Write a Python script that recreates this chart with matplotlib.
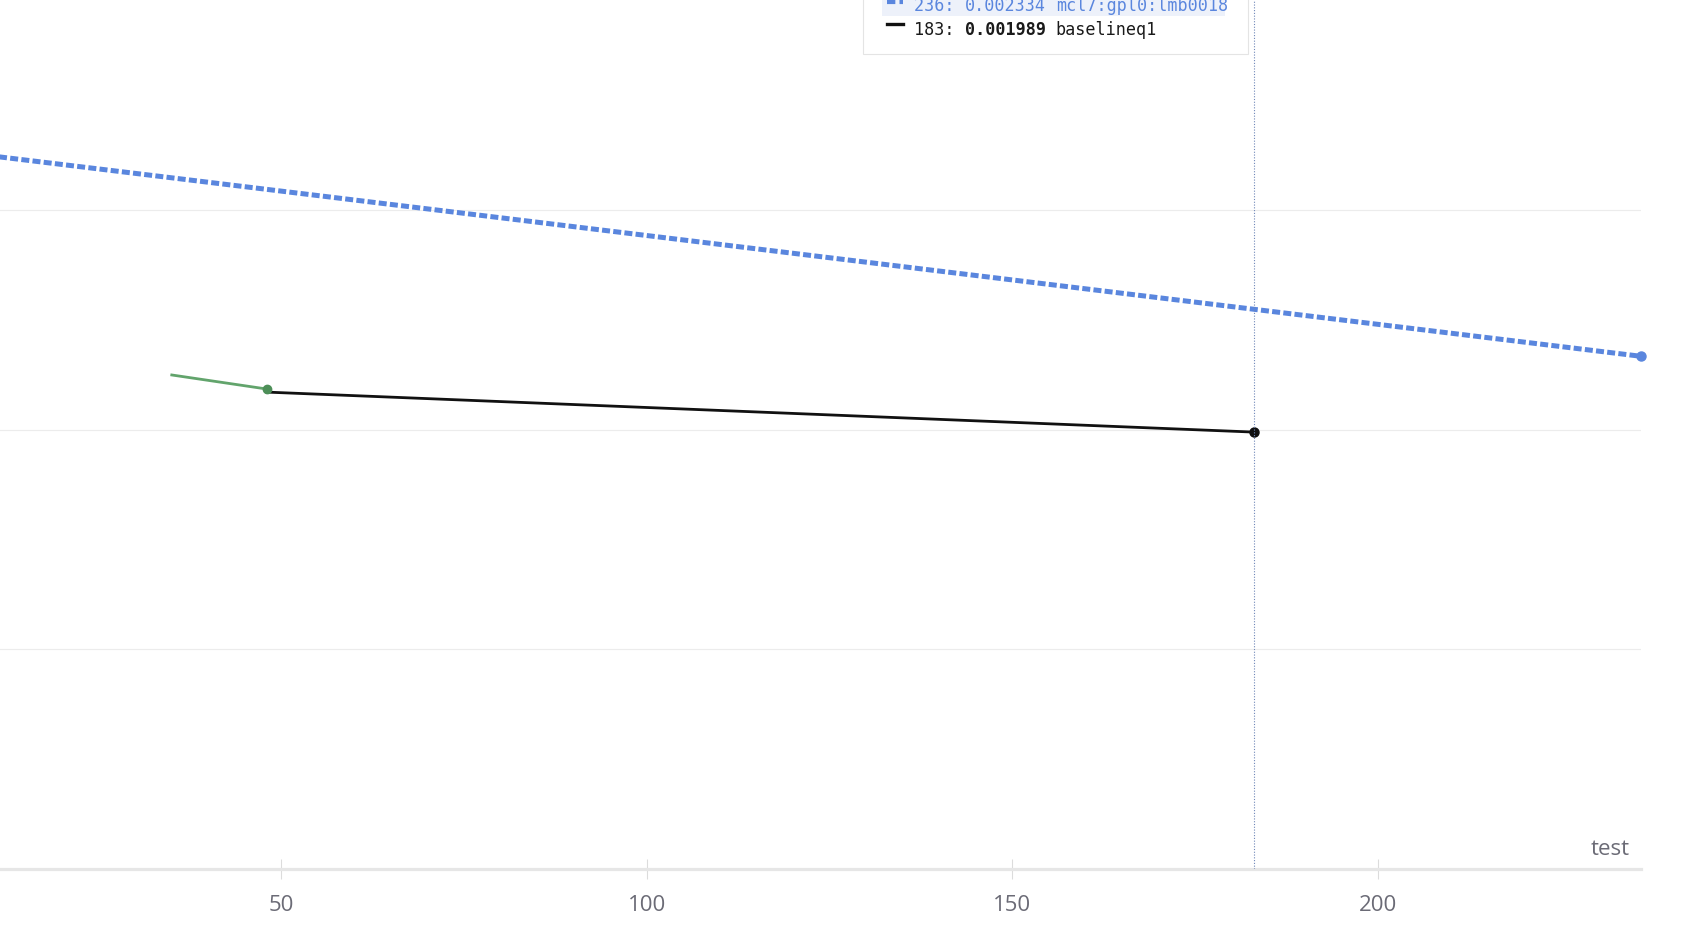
import matplotlib.pyplot as plt
from matplotlib.lines import Line2D
from matplotlib.patches import Rectangle

# run data
blue_name = 'mcl7:gpl0:lmb0018'
blue_steps = [0, 236]
blue_vals = [0.003288, 0.002334]

green_steps = [35, 48]
green_vals = [0.002249, 0.002185]

black_name = 'baselineq1'
black_steps = [48, 183]
black_vals = [0.002171, 0.001989]

hover_step = 183
x_ticks = [50, 100, 150, 200]
y_grid = [0.001, 0.002, 0.003]

W, H = 1686, 940
BLUE = '#5a86de'
GREEN = '#62a46c'
GRAY = '#6b6b76'


def fx(px):
    return px / W


def fy(py):
    return 1 - py / H


plt.rcParams['font.family'] = ['Open Sans', 'DejaVu Sans']

fig = plt.figure(figsize=(W / 100, H / 100), dpi=100)
ax = fig.add_axes([0, fy(869), fx(1641), 869 / H])
ax.set_xlim(11.5, 236.0)
ax.set_ylim(0, 0.003956)

# series
ax.plot(blue_steps, blue_vals, color=BLUE, lw=3.6, ls=(0, (1.6, 0.65)),
        dash_capstyle='butt', zorder=3)
ax.plot(blue_steps[-1:], blue_vals[-1:], 'o', color=BLUE, ms=6.5, clip_on=False, zorder=4)
ax.plot(green_steps, green_vals, color=GREEN, lw=2.0, zorder=3)
ax.plot(green_steps[-1:], green_vals[-1:], 'o', color='#4d8f58', ms=6, zorder=4)
ax.plot(black_steps, black_vals, color='#111111', lw=2.0, zorder=3)
ax.plot(black_steps[-1:], black_vals[-1:], 'o', color='#111111', ms=6.5, zorder=4)
ax.axvline(hover_step, color='#6f87b8', lw=0.8, ls=(0, (1, 1.5)), zorder=5)

# axes styling
for side in ['top', 'left', 'right']:
    ax.spines[side].set_visible(False)
ax.spines['bottom'].set_color('#e6e6e6')
ax.spines['bottom'].set_linewidth(2.3)
ax.set_xticks(x_ticks)
ax.set_yticks(y_grid)
ax.set_yticklabels([])
ax.tick_params(axis='y', length=0)
ax.tick_params(axis='x', direction='inout', length=15, width=0.8, color='#dcdcdc',
               labelsize=16, labelcolor=GRAY, pad=11)
ax.grid(axis='y', color='#ececec', lw=0.8)
ax.set_axisbelow(True)
fig.text(fx(1630), fy(855), 'test', ha='right', va='baseline', fontsize=16, color=GRAY)

# hover legend (cropped at the top)
fig.add_artist(Rectangle((fx(863), fy(54)), fx(1248 - 863), 80 / H, transform=fig.transFigure,
                         facecolor='white', edgecolor='#e4e4e4', lw=0.8, zorder=6))
fig.add_artist(Rectangle((fx(882), fy(16)), fx(1225 - 882), 20 / H, transform=fig.transFigure,
                         facecolor='#edf1fa', edgecolor='none', zorder=7))
fig.add_artist(Line2D([fx(887), fx(903)], [fy(2), fy(2)], transform=fig.transFigure,
                      color=BLUE, lw=3, ls=(0, (2, 1)), dash_capstyle='butt', zorder=8))
fig.add_artist(Line2D([fx(887), fx(903)], [fy(24), fy(24)], transform=fig.transFigure,
                      color='#111111', lw=2.4, zorder=8))

mono_size = 12.1
mono = dict(family='DejaVu Sans Mono', fontsize=mono_size, va='baseline', zorder=9)
cw = 0.602 * mono_size * 100 / 72  # advance of one monospace character in px
rows = [(blue_steps[-1], blue_vals[-1], blue_name, BLUE, 'normal', 11),
        (black_steps[-1], black_vals[-1], black_name, '#1a1a1a', 'bold', 35)]
for step, val, name, col, wt, base in rows:
    head = f'{step}: '
    num = f'{val:.6f}'
    x0 = 914
    fig.text(fx(x0), fy(base), head, color=col, **mono)
    fig.text(fx(x0 + cw * len(head)), fy(base), num, color=col, weight=wt, **mono)
    fig.text(fx(x0 + cw * (len(head) + len(num) + 1)), fy(base), name, color=col, **mono)

fig.savefig('out.png', dpi=100)
